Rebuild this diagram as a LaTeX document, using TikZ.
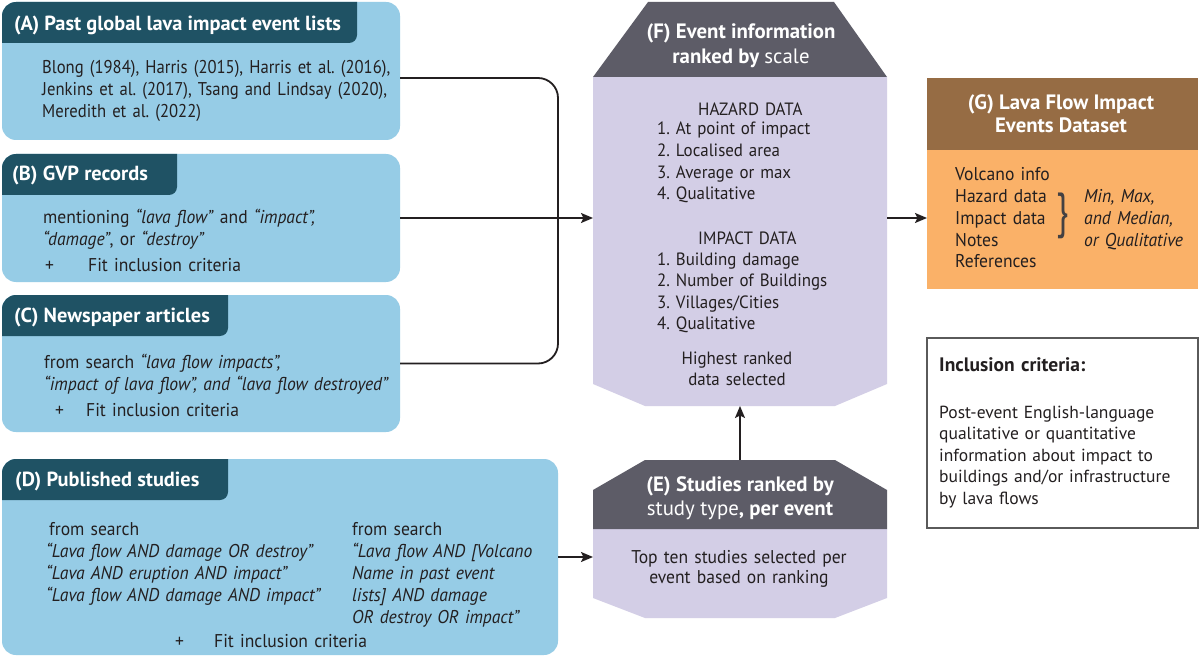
\documentclass[tikz,border=0pt]{standalone}
\usepackage{fontspec}
\setmainfont{PT Sans}
\newfontfamily\sfA[FakeStretch=0.9]{PT Sans}
\newfontfamily\sfB[FakeStretch=0.95]{PT Sans}
\usetikzlibrary{arrows.meta}
\definecolor{lblue}{RGB}{150,204,230}
\definecolor{hteal}{RGB}{31,82,100}
\definecolor{dgray}{RGB}{93,92,103}
\definecolor{lav}{RGB}{211,206,230}
\definecolor{hbrown}{RGB}{150,108,68}
\definecolor{lorange}{RGB}{250,177,104}
\definecolor{ink}{RGB}{35,31,32}
\definecolor{boxline}{RGB}{90,90,90}
\tikzset{
  panel/.style={fill=lblue, rounded corners=14, inner sep=0, outer sep=0, anchor=north west},
  frame/.style={inner sep=0, outer sep=0, anchor=north west},
  hdrtext/.style={text=white, font=\fontsize{20.4}{24}\selectfont\bfseries, anchor=base west, inner sep=0},
  ctrhdr/.style={text=white, font=\fontsize{20.8}{24}\selectfont, anchor=base, inner sep=0},
  body/.style={text=ink, font=\sfB\fontsize{18.5}{22}\selectfont, anchor=base west, inner sep=0, align=left, text width=#1},
  fbody/.style={text=ink, font=\sfB\fontsize{17.8}{21.6}\selectfont, anchor=base west, inner sep=0, align=left, text width=#1},
  cbody/.style={text=ink, font=\sfB\fontsize{18.5}{20.5}\selectfont, anchor=base, inner sep=0, align=center, text width=#1},
  conn/.style={draw=ink, line width=1.8},
  arr/.style={conn, -{Stealth[length=12,width=10,inset=2.5]}},
}
\frenchspacing
\begin{document}
\begin{tikzpicture}[x=1pt,y=-1pt]
\useasboundingbox (0,0) rectangle (1200,658);
\fill[white] (0,0) rectangle (1200,658);

% ---------- Panel A
\node[panel, minimum width=398, minimum height=138] (A) at (2,2) {};
\begin{scope}
\clip[rounded corners=14] (2,2) rectangle (400,140);
\fill[hteal, rounded corners=8] (-20,-20) rectangle (357,43);
\end{scope}
\node[hdrtext] (Ah) at (14,31) {(A) Past global lava impact event lists};
\node[body=600, font=\sfA\fontsize{18.5}{22}\selectfont] (At) at (42,74) {Blong (1984), Harris (2015), Harris et al. (2016),\\Jenkins et al. (2017), Tsang and Lindsay (2020),\\Meredith et al. (2022)};

% ---------- Panel B
\node[panel, minimum width=398, minimum height=128] (B) at (2,154) {};
\begin{scope}
\clip[rounded corners=14] (2,154) rectangle (400,282);
\fill[hteal, rounded corners=8] (-20,100) rectangle (177,195);
\end{scope}
\node[hdrtext] (Bh) at (12,180) {(B) GVP records};
\node[body=600] (Bt) at (43,223) {mentioning \textit{“lava flow”} and \textit{“impact”,}\\\textit{“damage”}, or \textit{“destroy”}};
\node[body=600] (Bp) at (45,271) {\makebox[43pt][l]{+}Fit inclusion criteria};

% ---------- Panel C
\node[panel, minimum width=398, minimum height=137] (C) at (2,295) {};
\begin{scope}
\clip[rounded corners=14] (2,295) rectangle (400,432);
\fill[hteal, rounded corners=8] (-20,250) rectangle (228,336);
\end{scope}
\node[hdrtext] (Ch) at (14,322) {(C) Newspaper articles};
\node[body=600] (Ct) at (44,368) {from search \textit{“lava flow impacts”,}\\\textit{“impact of lava flow”, and “lava flow destroyed”}};
\node[body=600] (Cp) at (55,416) {\makebox[31pt][l]{+}Fit inclusion criteria};

% ---------- Panel D
\node[panel, minimum width=556, minimum height=196] (D) at (2,459) {};
\begin{scope}
\clip[rounded corners=14] (2,459) rectangle (558,655);
\fill[hteal, rounded corners=8] (-20,420) rectangle (228,500);
\end{scope}
\node[hdrtext] (Dh) at (15,486) {(D) Published studies};
\node[body=600] (Dl) at (46,535) {\hspace*{3pt}from search\\\textit{“Lava flow AND damage OR destroy”}\\\textit{“Lava AND eruption AND impact”}\\\textit{“Lava flow AND damage AND impact”}};
\node[body=600] (Dr) at (352,535) {from search\\\textit{“Lava flow AND [Volcano}\\\textit{Name in past event}\\\textit{lists] AND damage}\\\textit{OR destroy OR impact”}};
\node[body=600] (Dp) at (175,647) {\makebox[39pt][l]{+}Fit inclusion criteria};

% ---------- F shape
\node[frame, minimum width=294, minimum height=404] (F) at (593,2) {};
\fill[lav] (593,77) -- (887,77) -- (887,384) -- (835,406) -- (645,406) -- (593,384) -- cycle;
\fill[dgray] (593,77) -- (648,2) -- (834,2) -- (887,77) -- cycle;
\node[ctrhdr] (Fh1) at (741,39) {\bfseries (F) Event information};
\node[ctrhdr] (Fh2) at (741,64) {\bfseries ranked by \mdseries scale};
\node[fbody=300] (Fhz) at (698,116) {HAZARD DATA};
\node[fbody=300] (Fhl) at (657,135) {1. At point of impact\\2. Localised area\\3. Average or max\\4. Qualitative};
\node[fbody=300] (Fim) at (698,244) {IMPACT DATA};
\node[fbody=300] (Fil) at (657,265) {1. Building damage\\2. Number of Buildings\\3. Villages/Cities\\4. Qualitative};
\node[cbody=200, font=\sfB\fontsize{17.8}{21.5}\selectfont] (Fsel) at (737,364) {Highest ranked\\data selected};

% ---------- E shape
\node[frame, minimum width=294, minimum height=158] (E) at (593,460) {};
\fill[lav] (593,529) -- (887,529) -- (887,598) -- (835,618) -- (645,618) -- (593,598) -- cycle;
\fill[dgray] (593,529) -- (593,490) -- (645,460) -- (835,460) -- (887,490) -- (887,529) -- cycle;
\node[ctrhdr] (Eh1) at (740,491) {\bfseries (E) Studies ranked by};
\node[ctrhdr] (Eh2) at (740,515) {study type\bfseries, per event};
\node[cbody=280] (Et) at (739,563) {Top ten studies selected per\\event based on ranking};

% ---------- G
\node[frame, minimum width=271, minimum height=211] (G) at (927,78) {};
\fill[lorange] (927,150) rectangle (1198,289);
\fill[hbrown] (927,78) rectangle (1198,150);
\node[ctrhdr] (Gh1) at (1061,110) {\bfseries (G) Lava Flow Impact};
\node[ctrhdr] (Gh2) at (1061,133) {\bfseries Events Dataset};
\node[body=300, font=\sfB\fontsize{18.5}{21.7}\selectfont] (Gt) at (955,181) {Volcano info\\Hazard data\\Impact data\\Notes\\References};
\node[text=ink!85, font=\fontsize{34}{34}\selectfont, inner sep=0] (Gb) at (1063,216) {\scalebox{1.05}[1.45]{\}}};
\node[body=300, font=\sfB\fontsize{18.5}{21.7}\selectfont\itshape] (Gi) at (1084,203) {Min, Max,\\and Median,\\or Qualitative};

% ---------- Inclusion criteria
\node[frame, draw=boxline, line width=1.2, minimum width=271, minimum height=190] (I) at (927,338) {};
\node[body=300, font=\fontsize{19.5}{24}\selectfont\bfseries] (Ih) at (939,371) {Inclusion criteria:};
\node[body=300, font=\fontsize{17.5}{21.6}\selectfont] (It) at (939,418) {Post-event English-language\\qualitative or quantitative\\information about impact to\\buildings and/or infrastructure\\by lava flows};

% ---------- connectors
\draw[conn, rounded corners=20] ([yshift=-7]A.east) -- ++(158,0) |- (C.east);
\draw[arr] (B.east) -- (B.east -| F.west);
\draw[arr] (D.east) -- (D.east -| E.west);
\draw[arr] (E.north) -- (F.south);
\draw[arr] (B.east -| F.east) -- (B.east -| G.west);
\end{tikzpicture}
\end{document}
